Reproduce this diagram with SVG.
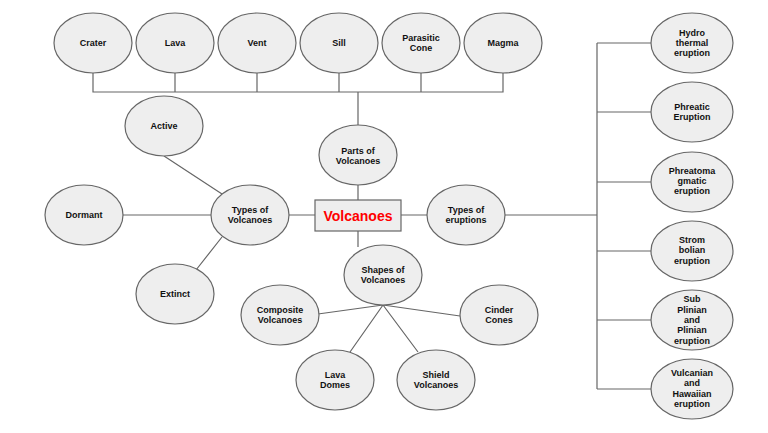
<svg xmlns="http://www.w3.org/2000/svg" width="768" height="433" viewBox="0 0 768 433">
<style>
.n{fill:#eeeeee;stroke:#666;stroke-width:1.2}
.t{font-family:"Liberation Sans",Arial,sans-serif;font-size:9px;font-weight:bold;fill:#111;text-anchor:middle}
.c{stroke:#666;stroke-width:1.2;fill:none}
</style>
<rect width="768" height="433" fill="#fff"/>
<g id="connectors" class="c">
<path d="M93,73V92H503V73M175,73V92M257,73V92M339,73V92M421,73V92M358,92V125"/>
<path d="M358,185V200M401,215H427M505,215H597M597,43V389M597,43H651M597,112H651M597,182H651M597,251H651M597,320H651M597,389H651"/>
<path d="M315,215H289M211,215H123M164,156L222,194M222,237L196,270"/>
<path d="M358,231V247M383,305L318,314M383,305L460,316M383,305L350,352M383,305L418,352"/>
</g>
<g id="crater"><ellipse class="n" cx="93" cy="43" rx="39" ry="30"/><text class="t" x="93" y="46">Crater</text></g>
<g id="lava"><ellipse class="n" cx="175" cy="43" rx="39" ry="30"/><text class="t" x="175" y="46">Lava</text></g>
<g id="vent"><ellipse class="n" cx="257" cy="43" rx="39" ry="30"/><text class="t" x="257" y="46">Vent</text></g>
<g id="sill"><ellipse class="n" cx="339" cy="43" rx="39" ry="30"/><text class="t" x="339" y="46">Sill</text></g>
<g id="parasitic"><ellipse class="n" cx="421" cy="43" rx="39" ry="30"/><text class="t" x="421" y="41">Parasitic</text><text class="t" x="421" y="51">Cone</text></g>
<g id="magma"><ellipse class="n" cx="503" cy="43" rx="39" ry="30"/><text class="t" x="503" y="46">Magma</text></g>
<g id="parts"><ellipse class="n" cx="358" cy="155" rx="39" ry="30"/><text class="t" x="358" y="154">Parts of</text><text class="t" x="358" y="164">Volcanoes</text></g>
<g id="active"><ellipse class="n" cx="164" cy="126" rx="39" ry="30"/><text class="t" x="164" y="129">Active</text></g>
<g id="dormant"><ellipse class="n" cx="84" cy="215" rx="39" ry="30"/><text class="t" x="84" y="218">Dormant</text></g>
<g id="typesv"><ellipse class="n" cx="250" cy="215" rx="39" ry="30"/><text class="t" x="250" y="213">Types of</text><text class="t" x="250" y="223">Volcanoes</text></g>
<g id="extinct"><ellipse class="n" cx="175" cy="294" rx="39" ry="30"/><text class="t" x="175" y="297">Extinct</text></g>
<g id="volcanoes"><rect x="315" y="200" width="86" height="31" fill="#eeeeee" stroke="#666" stroke-width="1.2"/><text x="358" y="221" font-family="Liberation Sans,Arial,sans-serif" font-size="14" font-weight="bold" fill="#ff0000" text-anchor="middle">Volcanoes</text></g>
<g id="typese"><ellipse class="n" cx="466" cy="215" rx="39" ry="30"/><text class="t" x="466" y="213">Types of</text><text class="t" x="466" y="223">eruptions</text></g>
<g id="shapes"><ellipse class="n" cx="383" cy="275" rx="39" ry="30"/><text class="t" x="383" y="273">Shapes of</text><text class="t" x="383" y="283">Volcanoes</text></g>
<g id="composite"><ellipse class="n" cx="280" cy="315" rx="39" ry="30"/><text class="t" x="280" y="313">Composite</text><text class="t" x="280" y="323">Volcanoes</text></g>
<g id="cinder"><ellipse class="n" cx="499" cy="315" rx="39" ry="30"/><text class="t" x="499" y="313">Cinder</text><text class="t" x="499" y="323">Cones</text></g>
<g id="domes"><ellipse class="n" cx="335" cy="380" rx="39" ry="30"/><text class="t" x="335" y="378">Lava</text><text class="t" x="335" y="388">Domes</text></g>
<g id="shield"><ellipse class="n" cx="436" cy="380" rx="39" ry="30"/><text class="t" x="436" y="378">Shield</text><text class="t" x="436" y="388">Volcanoes</text></g>
<g id="hydro"><ellipse class="n" cx="692" cy="43" rx="41" ry="30"/><text class="t" x="692" y="36">Hydro</text><text class="t" x="692" y="46">thermal</text><text class="t" x="692" y="56">eruption</text></g>
<g id="phreatic"><ellipse class="n" cx="692" cy="112" rx="41" ry="30"/><text class="t" x="692" y="110">Phreatic</text><text class="t" x="692" y="120">Eruption</text></g>
<g id="phreatoma"><ellipse class="n" cx="692" cy="182" rx="41" ry="30"/><text class="t" x="692" y="174">Phreatoma</text><text class="t" x="692" y="184">gmatic</text><text class="t" x="692" y="194">eruption</text></g>
<g id="strom"><ellipse class="n" cx="692" cy="251" rx="41" ry="30"/><text class="t" x="692" y="243">Strom</text><text class="t" x="692" y="253">bolian</text><text class="t" x="692" y="264">eruption</text></g>
<g id="plinian"><ellipse class="n" cx="692" cy="320" rx="41" ry="30"/><text class="t" x="692" y="302">Sub</text><text class="t" x="692" y="313">Plinian</text><text class="t" x="692" y="323">and</text><text class="t" x="692" y="333">Plinian</text><text class="t" x="692" y="344">eruption</text></g>
<g id="vulcanian"><ellipse class="n" cx="692" cy="389" rx="41" ry="30"/><text class="t" x="692" y="376">Vulcanian</text><text class="t" x="692" y="386">and</text><text class="t" x="692" y="397">Hawaiian</text><text class="t" x="692" y="407">eruption</text></g>
</svg>
